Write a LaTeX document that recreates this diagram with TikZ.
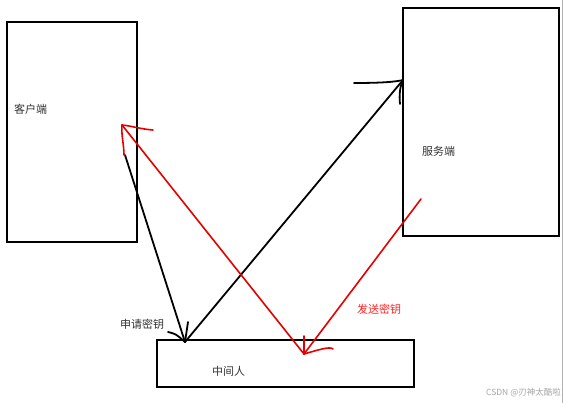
\documentclass[tikz,border=0pt]{standalone}
\usepackage{fontspec}
\setmainfont{Noto Sans CJK SC}
\begin{document}
\begin{tikzpicture}[x=1pt,y=-1pt,
  box/.style={draw=black,line width=2pt},
  blk/.style={draw=black,line width=1.8pt,line cap=round},
  rd/.style={draw=red!90!black,line width=1.6pt,line cap=round},
  lbl/.style={text=black!80,font=\fontsize{11}{11}\selectfont,inner sep=0pt,anchor=west},
  rlbl/.style={text=red!85!white,font=\fontsize{11}{11}\selectfont,inner sep=0pt,anchor=west}]
\useasboundingbox (0,0) rectangle (564,403);
\fill[white] (0,0) rectangle (564,403);
\draw[black!30,line width=0.6pt] (562.5,0) -- (562.5,403);
% boxes
\draw[box] (7,22) rectangle (137,242);
\draw[box] (403,8) rectangle (559,236);
\draw[box] (157,340) rectangle (414,387);
% labels
\node[lbl] (client) at (14,109) {客户端};
\node[lbl] (server) at (422,151) {服务端};
\node[lbl] (mid) at (212,371) {中间人};
\node[lbl] (req) at (120,324) {申请密钥};
\node[rlbl] (send) at (357,309) {发送密钥};
\node[text=black!35,font=\fontsize{8.5}{8.5}\selectfont,inner sep=0pt,anchor=east] (wm) at (561,393) {CSDN @刃神太酷啦};
% coordinates
\coordinate (bstart) at (125,155);
\coordinate (mtip) at (185,342);
\coordinate (stip) at (403,80);
\coordinate (ctip) at (122,125);
\coordinate (rtip) at (304,354);
\coordinate (rstart) at (421,199);
% black request arrow
\draw[blk] (bstart) -- (mtip);
\draw[blk] (168,332) .. controls (176,334) .. (mtip);
\draw[blk] (188,322) .. controls (187,332) .. (mtip);
% black arrow to server
\draw[blk] (mtip) -- (stip);
\draw[blk] (354,83) .. controls (380,83) and (395,82) .. (stip);
\draw[blk] (400,104) .. controls (399,95) and (400,86) .. (stip);
% red arrow to client
\draw[rd] (rtip) -- (ctip);
\draw[rd] (153,130) .. controls (140,129) and (132,126) .. (ctip);
\draw[rd] (124,155) .. controls (124,145) and (121,134) .. (ctip);
% red arrow from server to middle
\draw[rd] (rstart) -- (rtip);
\draw[rd] (333,349) .. controls (330,346) and (318,350) .. (rtip);
\draw[rd] (304,336) -- (rtip);
\end{tikzpicture}
\end{document}
